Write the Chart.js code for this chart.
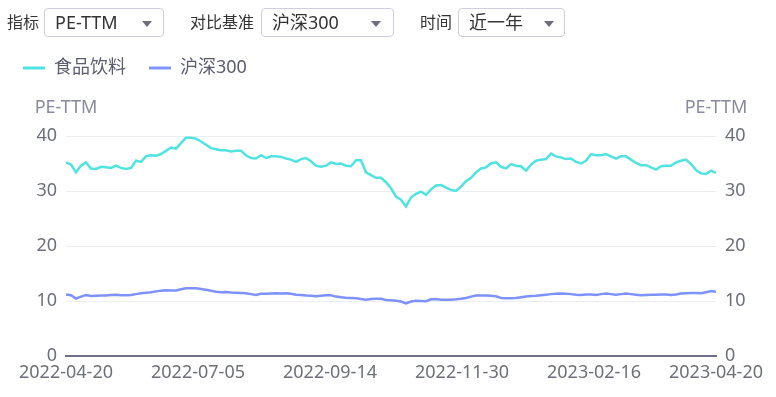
<!DOCTYPE html>
<html lang="zh">
<head>
  <meta charset="UTF-8">
  <title>食品饮料 PE-TTM</title>
  <style>
    body, html { margin:0; padding:0; overflow:hidden; background:#fff; }
    #wrap { position:relative; width:776px; height:397px; font-family:"Noto Sans","Noto Sans CJK SC",sans-serif; }
    canvas#chart { position:absolute; left:0; top:0; }
    .lbl { position:absolute; top:8px; height:29px; line-height:29px; font-size:16px; color:#333; }
    .sel { position:absolute; top:8px; height:27px; border:1px solid #cfcde0; border-radius:4px;
           font-size:18px; line-height:27px; color:#333; box-sizing:content-box; background:#fff; }
    .sel span { position:absolute; left:10px; }
    .sel i { position:absolute; top:12px; width:0; height:0; border-left:5px solid transparent;
             border-right:5px solid transparent; border-top:6px solid #6e6e80; }
  </style>
</head>
<body>
<div id="wrap">
  <canvas id="chart" width="776" height="397"></canvas>
  <div class="lbl" style="left:7px">指标</div>
  <div class="sel" style="left:44px;width:118px"><span>PE-TTM</span><i style="left:97px"></i></div>
  <div class="lbl" style="left:190px">对比基准</div>
  <div class="sel" style="left:261px;width:131px"><span>沪深300</span><i style="left:109px"></i></div>
  <div class="lbl" style="left:420px">时间</div>
  <div class="sel" style="left:458px;width:105px"><span>近一年</span><i style="left:85px"></i></div>
</div>

<script src="https://cdn.jsdelivr.net/npm/chart.js"></script>
<script>
// values, one point every ~5px along the x axis
const foodPE = [
  35.2, 34.8, 33.4, 34.6, 35.2, 34.1, 34.0, 34.4, 34.3, 34.2,
  34.6, 34.2, 34.0, 34.2, 35.5, 35.3, 36.3, 36.5, 36.4, 36.7,
  37.3, 37.9, 37.7, 38.7, 39.7, 39.7, 39.5, 39.0, 38.4, 37.8,
  37.6, 37.4, 37.4, 37.2, 37.3, 37.3, 36.5, 36.0, 35.9, 36.5,
  36.0, 36.3, 36.3, 36.2, 35.9, 35.7, 35.3, 35.8, 36.0, 35.4,
  34.6, 34.4, 34.6, 35.2, 34.9, 35.0, 34.6, 34.5, 35.6, 35.6,
  33.4, 32.9, 32.4, 32.4, 31.6, 30.5, 29.0, 28.4, 27.2, 28.8,
  29.5, 29.9, 29.3, 30.3, 31.0, 31.1, 30.6, 30.2, 30.0, 30.8,
  31.8, 32.4, 33.4, 34.1, 34.3, 35.0, 35.2, 34.4, 34.1, 34.9,
  34.6, 34.5, 33.7, 34.8, 35.5, 35.7, 35.8, 36.8, 36.3, 36.1,
  35.8, 35.9, 35.3, 35.0, 35.5, 36.7, 36.5, 36.5, 36.7, 36.3,
  35.9, 36.3, 36.3, 35.7, 35.1, 34.7, 34.7, 34.3, 33.9, 34.5,
  34.6, 34.6, 35.2, 35.5, 35.7, 34.9, 33.8, 33.2, 33.1, 33.7,
  33.3
];
const hs300PE = [
  11.2, 11.05, 10.45, 10.8, 11.1, 10.9, 10.95, 11.0, 11.0, 11.1,
  11.15, 11.05, 11.05, 11.1, 11.25, 11.4, 11.5, 11.6, 11.75, 11.85,
  11.95, 11.9, 11.9, 12.15, 12.3, 12.3, 12.3, 12.2, 12.05, 11.85,
  11.7, 11.6, 11.65, 11.55, 11.5, 11.45, 11.4, 11.25, 11.1, 11.3,
  11.3, 11.35, 11.4, 11.35, 11.4, 11.3, 11.15, 11.1, 11.0, 10.95,
  10.85, 10.95, 11.05, 11.05, 10.8, 10.7, 10.6, 10.55, 10.5, 10.35,
  10.25, 10.35, 10.4, 10.4, 10.2, 10.15, 10.05, 9.9, 9.55, 9.9,
  10.05, 10.0, 9.95, 10.3, 10.35, 10.25, 10.25, 10.25, 10.3, 10.4,
  10.55, 10.8, 11.0, 11.0, 11.0, 10.95, 10.85, 10.55, 10.5, 10.5,
  10.55, 10.7, 10.8, 10.9, 10.95, 11.05, 11.15, 11.25, 11.3, 11.35,
  11.3, 11.25, 11.15, 11.1, 11.2, 11.2, 11.1, 11.25, 11.35, 11.25,
  11.15, 11.25, 11.35, 11.25, 11.15, 11.05, 11.1, 11.15, 11.15, 11.2,
  11.2, 11.1, 11.2, 11.35, 11.4, 11.45, 11.45, 11.4, 11.6, 11.8,
  11.7
];
const tickPos = [0, 26.4, 52.8, 79.2, 105.6, 130];
const tickLabels = ['2022-04-20', '2022-07-05', '2022-09-14', '2022-11-30', '2023-02-16', '2023-04-20'];
const seriesNames = ['食品饮料', '沪深300'];
const axisName = 'PE-TTM';

const FONT = '"Noto Sans","Noto Sans CJK SC",sans-serif';
const TICK = '#6e7079';

const legendGap = {
  id: 'legendGap',
  beforeInit(chart) {
    const fit = chart.legend.fit;
    chart.legend.fit = function () { fit.call(this); this.height += 49; };
  }
};
const axisTitles = {
  id: 'axisTitles',
  afterDraw(chart) {
    const c = chart.ctx, a = chart.chartArea;
    c.save();
    c.font = '18px ' + FONT;
    c.fillStyle = '#8a8a9e';
    c.textAlign = 'center';
    c.textBaseline = 'middle';
    c.fillText(axisName, a.left, a.top - 28);
    c.fillText(axisName, a.right, a.top - 28);
    c.restore();
  }
};

const toXY = arr => arr.map((v, i) => ({ x: i, y: v }));

new Chart(document.getElementById('chart'), {
  type: 'line',
  data: {
    datasets: [
      { label: seriesNames[0], data: toXY(foodPE), borderColor: '#4fe3e1', backgroundColor: '#4fe3e1',
        borderWidth: 2.5, pointRadius: 0, tension: 0, yAxisID: 'y' },
      { label: seriesNames[1], data: toXY(hs300PE), borderColor: '#7e92ff', backgroundColor: '#7e92ff',
        borderWidth: 2.5, pointRadius: 0, tension: 0, yAxisID: 'y' }
    ]
  },
  options: {
    responsive: false,
    animation: false,
    layout: { padding: { top: 36, left: 0, right: 0, bottom: 0 } },
    plugins: {
      tooltip: { enabled: false },
      legend: {
        align: 'start',
        labels: {
          boxWidth: 22, boxHeight: 3, padding: 23, color: '#5c5c70',
          font: { size: 18, family: FONT },
          generateLabels: ch => Chart.defaults.plugins.legend.labels.generateLabels(ch)
            .map(l => Object.assign(l, { lineWidth: 0, fillStyle: l.strokeStyle }))
        }
      }
    },
    scales: {
      x: {
        type: 'linear', min: 0, max: foodPE.length - 1,
        grid: { display: false, drawTicks: false },
        border: { color: '#6e6f88', width: 2 },
        afterBuildTicks: s => { s.ticks = tickPos.map(v => ({ value: v })); },
        afterFit: s => { s.height = 41; },
        ticks: { color: TICK, padding: 6, maxRotation: 0, autoSkip: false,
                 font: { size: 18, family: FONT },
                 callback: (v, i) => tickLabels[i] }
      },
      y: {
        position: 'left', min: 0, max: 40,
        grid: { color: '#ececf3', drawTicks: false },
        border: { display: false },
        afterFit: s => { s.width = 66; },
        ticks: { stepSize: 10, padding: 9, color: TICK, font: { size: 18, family: FONT } }
      },
      y1: {
        position: 'right', min: 0, max: 40,
        grid: { display: false, drawTicks: false },
        border: { display: false },
        afterFit: s => { s.width = 60; },
        ticks: { stepSize: 10, padding: 9, color: TICK, font: { size: 18, family: FONT } }
      }
    }
  },
  plugins: [legendGap, axisTitles]
});
</script>
</body>
</html>
